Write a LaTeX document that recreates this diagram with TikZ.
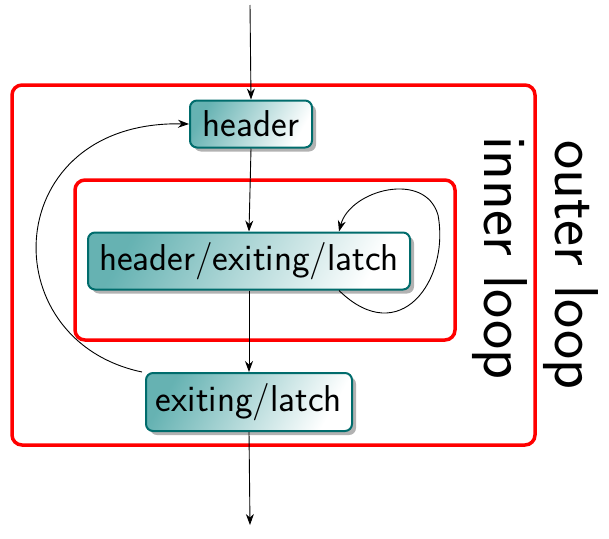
\documentclass[tikz,border=0pt]{standalone}
\usetikzlibrary{shadows,arrows.meta}
\newcommand{\nscale}[1]{\scalebox{1.87}{#1}}
\newcommand{\bscale}[1]{\scalebox{1.72}{#1}}
\begin{document}
\begin{tikzpicture}[x=1pt,y=-1pt,font=\sffamily\fontsize{20}{24}\selectfont,
  blk/.style={draw=teal!85!black,line width=2pt,rounded corners=7pt,shading=axis,left color=teal!60,right color=white,shading angle=60,
    inner sep=0pt,drop shadow={shadow xshift=4pt,shadow yshift=-4pt,fill=gray!60,opacity=1}},
  loopbox/.style={draw=red,line width=3.5pt,rounded corners=10pt},
  arr/.style={-{Stealth[length=11pt,width=8pt]},line width=0.9pt},
  big/.style={font=\sffamily\fontsize{36}{40}\selectfont,rotate=-90}]
\useasboundingbox (0,0) rectangle (609,538);
\draw[loopbox] (12,85) rectangle (535,445);
\draw[loopbox] (75,180) rectangle (455,340);
\node[blk,minimum width=122pt,minimum height=47pt] (h) at (251,124) {\nscale{header}};
\node[blk,minimum width=322pt,minimum height=57pt] (hel) at (249,261) {\nscale{header/exiting/latch}};
\node[blk,minimum width=206pt,minimum height=58pt] (el) at (249,402) {\nscale{exiting/latch}};
\coordinate (top) at (250,5);
\coordinate (bot) at (250,525);
\draw[arr] (top) -- (h.north);
\draw[arr] (h.south) -- (hel.north);
\draw[arr] (hel.south) -- (el.north);
\draw[arr] (el.south) -- (bot);
\draw[arr] ([xshift=-3pt]el.north west) .. controls (-10,340) and (0,120) .. (h.west);
\draw[arr] ([xshift=-72pt]hel.south east) .. controls (400,350) and (450,280) .. (438,215) .. controls (425,170) and (350,190) .. ([xshift=-72pt]hel.north east);
\node[big] (ol) at (571,265) {\bscale{outer loop}};
\node[big] (il) at (500,258) {\bscale{inner loop}};
\end{tikzpicture}
\end{document}
